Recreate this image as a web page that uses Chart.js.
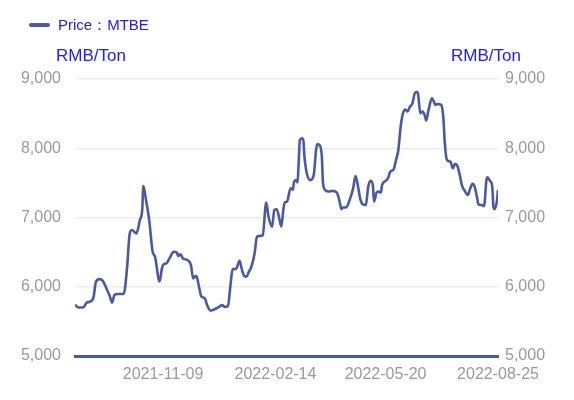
<!DOCTYPE html>
<html>
<head>
<meta charset="utf-8">
<script src="https://cdn.jsdelivr.net/npm/chart.js@4.4.1/dist/chart.umd.min.js"></script>
<style>
  html, body { margin: 0; padding: 0; background: #ffffff; }
  #wrap { position: relative; width: 574px; height: 400px; font-family: "Liberation Sans", Arial, sans-serif; }
  #c { position: absolute; left: 0; top: 0; }
  .unit { position: absolute; top: 45px; font-size: 17px; color: #2020f0; line-height: 22px; white-space: nowrap; }
  #legend { position: absolute; left: 29px; top: 14px; height: 22px; display: flex; align-items: center; white-space: nowrap; }
  #legend .swatch { width: 21px; height: 4px; border-radius: 2px; background: #4b5aa0; margin-right: 8px; }
  #legend .txt { font-size: 15px; color: #2020ee; }
</style>
</head>
<body>
<div id="wrap">
  <canvas id="c" width="574" height="400"></canvas>
  <div id="legend"><span class="swatch"></span><span class="txt" id="legendText"></span></div>
  <div class="unit" id="unitL" style="left:56px;"></div>
  <div class="unit" id="unitR" style="left:451px;"></div>
</div>
<script>
// ---- data ----
const seriesName = "Price：MTBE";
const unitLabel = "RMB/Ton";
const startDate = "2021-08-25";
const tickDates = ["2021-11-09", "2022-02-14", "2022-05-20", "2022-08-25"];
const yTicks = [5000, 6000, 7000, 8000, 9000];
// day offset from startDate
const days = [0,3,7,10,13,16,18,21,24,27,30,32,34,37,42,45,47,49,53,56,58,59,61,64,67,69,73,75,76,79,82,85,88,89,
  91,93,97,100,102,104,105,107,109,112,114,117,119,124,127,129,132,134,136,139,142,144,146,148,150,152,155,157,160,162,
  165,167,170,172,174,176,178,180,181,183,186,188,189,191,192,193,194,196,197,198,200,203,206,208,209,211,213,214,216,
  219,222,226,228,230,231,234,237,240,242,244,246,248,251,253,255,257,258,260,262,264,265,268,270,272,275,277,279,281,
  283,285,287,289,291,293,295,296,298,300,302,303,305,308,310,311,313,316,318,319,321,324,326,328,330,332,334,336,339,
  341,343,345,347,348,351,353,355,356,358,360,361,362,364,365];
const prices = [5740,5700,5700,5770,5785,5850,6070,6110,6085,5980,5865,5770,5880,5895,5895,6290,6745,6820,6770,6965,7110,7455,7280,6965,6505,6435,6075,6265,6315,6340,6425,6505,6490,6445,
  6470,6410,6385,6315,6120,6155,6145,6000,5860,5835,5735,5655,5665,5705,5735,5710,5720,6000,6250,6260,6375,6250,6155,6145,6215,6280,6485,6725,6735,6745,
  7215,7010,6865,7110,7120,7010,6870,7140,7215,7230,7420,7400,7515,7540,7505,7785,8120,8145,8120,7880,7640,7540,7615,7975,8060,8045,7880,7495,7395,
  7375,7385,7360,7255,7120,7145,7145,7255,7420,7600,7470,7280,7195,7180,7445,7530,7470,7230,7350,7375,7360,7470,7530,7565,7660,7695,7830,7975,8310,
  8505,8560,8530,8600,8640,8785,8815,8785,8505,8530,8465,8400,8550,8720,8660,8625,8640,8625,8410,8095,7830,7805,7710,7775,7745,7615,7455,7395,7325,
  7420,7485,7435,7280,7195,7180,7165,7540,7580,7530,7455,7165,7120,7230,7400];

// ---- build ----
document.getElementById('legendText').textContent = seriesName;
document.getElementById('unitL').textContent = unitLabel;
document.getElementById('unitR').textContent = unitLabel;

const DAY = 86400000;
const t0 = Date.parse(startDate);
const tickDays = tickDates.map(d => Math.round((Date.parse(d) - t0) / DAY));
const points = days.map((d, i) => ({ x: d, y: prices[i] }));

const lineColor = '#4b5aa0';
const tickColor = '#999999';
const gridColor = '#ebebf5';
const tickFont = { family: '"Liberation Sans", Arial, sans-serif', size: 16 };

const yCommon = {
  type: 'linear',
  min: yTicks[0],
  max: yTicks[yTicks.length - 1],
  afterBuildTicks: (axis) => { axis.ticks = yTicks.map(v => ({ value: v })); },
  ticks: {
    color: tickColor,
    font: tickFont,
    callback: (v) => Number(v).toLocaleString('en-US')
  },
  border: { display: false }
};

new Chart(document.getElementById('c'), {
  type: 'line',
  data: {
    datasets: [{
      label: seriesName,
      data: points,
      borderColor: lineColor,
      backgroundColor: lineColor,
      borderWidth: 2.6,
      pointRadius: 0,
      cubicInterpolationMode: 'monotone',
      fill: false,
      yAxisID: 'y'
    }]
  },
  options: {
    responsive: false,
    animation: false,
    devicePixelRatio: 1,
    layout: { padding: { top: 79, left: 0, right: 0, bottom: 0 } },
    plugins: { legend: { display: false }, tooltip: { enabled: false } },
    scales: {
      x: {
        type: 'linear',
        min: 0,
        max: tickDays[tickDays.length - 1],
        afterBuildTicks: (axis) => { axis.ticks = tickDays.map(v => ({ value: v })); },
        afterFit: (s) => { s.height = 44; },
        grid: { display: false, drawTicks: false },
        border: { display: true, color: lineColor, width: 3 },
        ticks: {
          color: tickColor,
          font: tickFont,
          padding: 9,
          maxRotation: 0,
          autoSkip: false,
          callback: (v) => { const i = tickDays.indexOf(v); return i >= 0 ? tickDates[i] : ''; }
        }
      },
      y: Object.assign({}, yCommon, {
        position: 'left',
        afterFit: (s) => { s.width = 75; },
        grid: { display: true, color: gridColor, lineWidth: 1.5, drawTicks: false },
        ticks: Object.assign({}, yCommon.ticks, { padding: 14 })
      }),
      y2: Object.assign({}, yCommon, {
        position: 'right',
        afterFit: (s) => { s.width = 76; },
        grid: { display: false, drawTicks: false },
        ticks: Object.assign({}, yCommon.ticks, { padding: 7 })
      })
    }
  }
});
</script>
</body>
</html>
